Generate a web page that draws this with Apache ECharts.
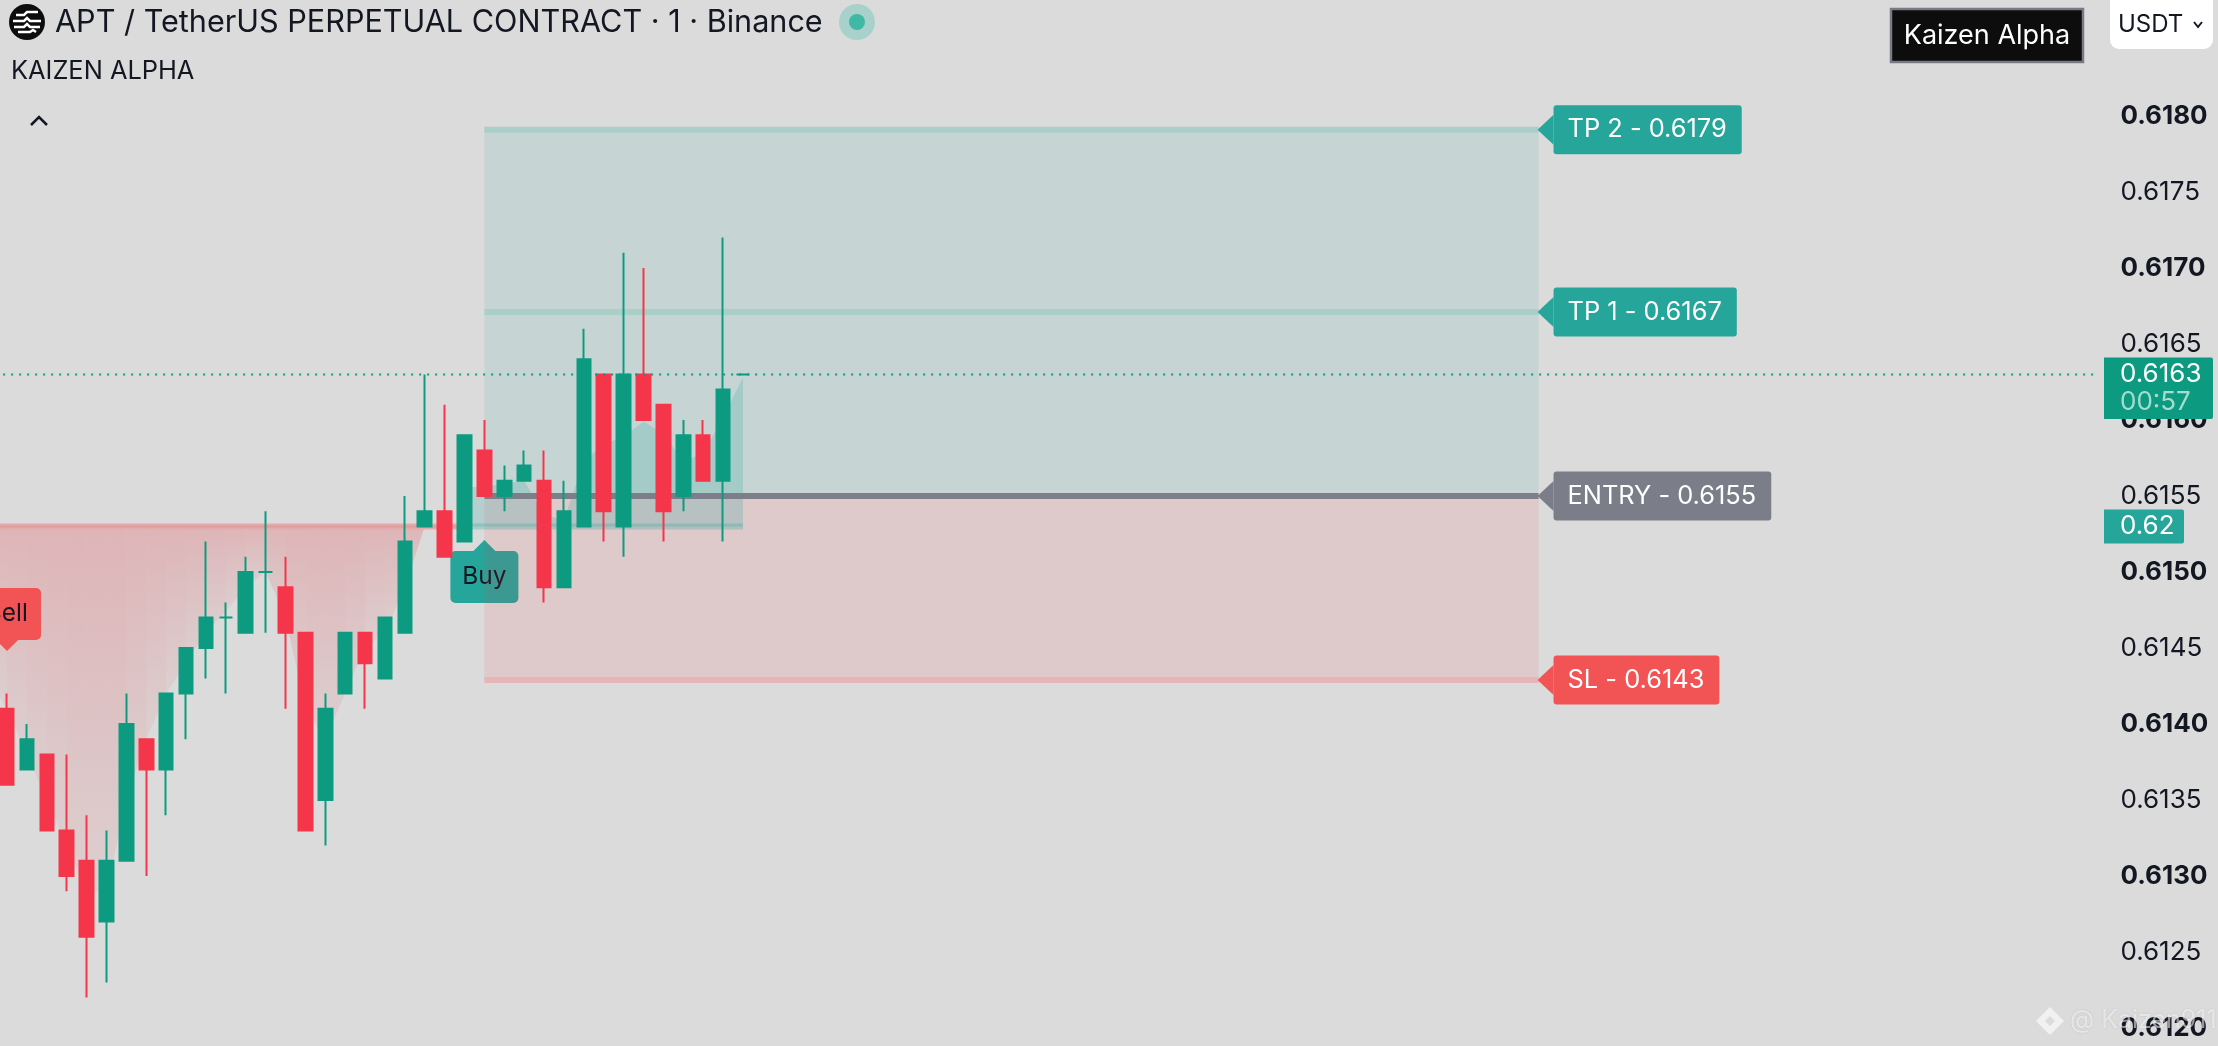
<!DOCTYPE html>
<html><head><meta charset="utf-8">
<style>html,body{margin:0;padding:0;background:#dbdbdb;overflow:hidden}#c{width:2218px;height:1046px}</style>
<script src="https://cdn.jsdelivr.net/npm/echarts@6/dist/echarts.min.js"></script>
</head><body><div id="c"></div>
<script>
const opens  = [.6141,.6137,.6138,.6133,.6131,.6127,.6131,.6139,.6137,.6142,.6145,.6147,.6146,.6150,.6149,.6146,.6135,.6142,.6146,.6143,.6146,.6153,.6154,.6152,.6158,.6155,.6156,.6156,.6149,.6153,.6163,.6153,.6163,.6161,.6155,.6159,.6156,.6163];
const closes = [.6136,.6139,.6133,.6130,.6126,.6131,.6140,.6137,.6142,.6145,.6147,.6147,.6150,.6150,.6146,.6133,.6141,.6146,.6144,.6147,.6152,.6154,.6151,.6159,.6155,.6156,.6157,.6149,.6154,.6164,.6154,.6163,.6160,.6154,.6159,.6156,.6162,.6163];
const highs  = [.6142,.6140,.6138,.6138,.6134,.6133,.6142,.6139,.6142,.6145,.6152,.6148,.6151,.6154,.6151,.6146,.6142,.6146,.6146,.6147,.6155,.6163,.6161,.6159,.6160,.6157,.6158,.6158,.6156,.6166,.6163,.6171,.6170,.6161,.6160,.6160,.6172,.6163];
const lows   = [.6136,.6137,.6133,.6129,.6122,.6123,.6131,.6130,.6134,.6139,.6143,.6142,.6146,.6146,.6141,.6133,.6132,.6142,.6141,.6143,.6146,.6153,.6151,.6152,.6155,.6154,.6156,.6148,.6149,.6153,.6152,.6151,.6160,.6152,.6154,.6156,.6152,.6163];
// lower edge of the red cloud, first value belongs to the off-screen bar
const redCloud = [.6143,.6141,.6138,.6135,.6132,.6129,.6129,.6135,.6139,.6142,.6144,.6146,.61474,.6149,.6150,.6147,.6141,.6139,.6142,.6145,.6146,.6149,.6153];
// upper edge of the teal cloud, bars 23 to 37
const tealCloud = [.61556,.61556,.61558,.6156,.61538,.61534,.61573,.61584,.61589,.61599,.61591,.61573,.61578,.61602,.61628];
const cloudLevel = 0.6153;
const lastPrice = 0.6163;
const levelNames = ['TP 2 - 0.6179','TP 1 - 0.6167','ENTRY - 0.6155','SL - 0.6143'];
const levelPrices = [0.61791,0.61671,0.6155,0.61429];
const signalNames = ['Sell','Buy'];
const signalPrices = [0.61448,0.61521];
const signalBars = [0,24];
const bars = 107, firstBar = 1, zoneFrom = 25, zoneTo = 78;

const categories = Array.from({length:bars},(_,i)=>String(i));
const candleData = opens.map((o,i)=>[o,closes[i],lows[i],highs[i]]);
candleData.unshift('-');
const redSegments = redCloud.slice(0,-1).map((v,i)=>[i,v,redCloud[i+1]]);
const tealData = [...Array(24).fill(null),...tealCloud];

const FONT='Inter, Roboto, sans-serif';
const TEAL='#26a69a',GREEN='#0c9b80',RED='#f5364a',SELL='#f25355',GREY='#7b7d88',INK='#131722';
const levelColors=[TEAL,TEAL,GREY,SELL];
const bandColors=['#aacfca','#a9cfc9','#7c7e8a','#e5b5b7'];
const measure=document.createElement('canvas').getContext('2d');
function textW(t,size){measure.font=size+'px Inter';return measure.measureText(t).width;}

const chart=echarts.init(document.getElementById('c'),null,{renderer:'canvas'});
chart.setOption({
 animation:false,
 backgroundColor:'#dbdbdb',
 grid:{left:-22.8,width:2128.2,top:-36,height:1140,containLabel:false,outerBoundsMode:'none'},
 xAxis:{type:'category',data:categories,boundaryGap:true,axisLine:{show:false},axisTick:{show:false},axisLabel:{show:false},splitLine:{show:false}},
 yAxis:{type:'value',position:'right',min:0.6115,max:0.6190,interval:0.0005,scale:true,
  axisLine:{show:false},axisTick:{show:false},splitLine:{show:false},
  axisLabel:{margin:15,align:'left',fontFamily:FONT,
   formatter:v=>{const s=v.toFixed(4);return Math.round(v*10000)%10===0?'{b|'+s+'}':'{n|'+s+'}';},
   rich:{b:{fontSize:26,fontWeight:700,color:INK,fontFamily:FONT},n:{fontSize:26,color:INK,fontFamily:FONT}}}},
 graphic:{elements:[
  {type:'circle',shape:{cx:27,cy:22,r:18},style:{fill:'#0d0d0d'},z:30},
  {type:'polyline',shape:{points:[[16,15],[24,15],[27,12],[38,12]]},style:{stroke:'#fff',lineWidth:2.5,fill:null},z:31},
  {type:'polyline',shape:{points:[[13,21],[24,21],[27,18],[30,21],[41,21]]},style:{stroke:'#fff',lineWidth:2.5,fill:null},z:31},
  {type:'polyline',shape:{points:[[14,27],[24,27],[27,24],[30,27],[40,27]]},style:{stroke:'#fff',lineWidth:2.5,fill:null},z:31},
  {type:'polyline',shape:{points:[[18,32],[30,32],[33,30],[36,32]]},style:{stroke:'#fff',lineWidth:2.5,fill:null},z:31},
  {type:'text',style:{x:55,y:23,text:'APT / TetherUS PERPETUAL CONTRACT · 1 · Binance',font:'30.6px '+FONT,fill:INK,textVerticalAlign:'middle'},z:30},
  {type:'text',style:{x:11,y:71,text:'KAIZEN ALPHA',font:'25.4px '+FONT,fill:INK,textVerticalAlign:'middle'},z:30},
  {type:'circle',shape:{cx:857,cy:22,r:18},style:{fill:'#a9d1cb'},z:30},
  {type:'circle',shape:{cx:857,cy:22,r:8},style:{fill:'#3fb8a5'},z:31},
  {type:'polyline',shape:{points:[[31,125],[39,117],[47,125]]},style:{stroke:INK,lineWidth:2.5,fill:null},z:30},
  {type:'rect',shape:{x:1891,y:9,width:192,height:53},style:{fill:'#0d0d0d',stroke:'#787b86',lineWidth:2.5},z:30},
  {type:'text',style:{x:1987,y:36,text:'Kaizen Alpha',font:'27px '+FONT,fill:'#fff',textAlign:'center',textVerticalAlign:'middle'},z:31},
  {type:'rect',shape:{x:2110,y:-8,width:103,height:57,r:9},style:{fill:'#fff'},z:30},
  {type:'text',style:{x:2118,y:25,text:'USDT',font:'24px '+FONT,fill:INK,textVerticalAlign:'middle'},z:31},
  {type:'polyline',shape:{points:[[2194,22],[2198,27],[2202,22]]},style:{stroke:INK,lineWidth:2,fill:null},z:31},
  {type:'polygon',shape:{points:[[2050,1007],[2064,1021],[2050,1035],[2036,1021]]},style:{fill:'rgba(255,255,255,0.6)'},z:32},
  {type:'polygon',shape:{points:[[2050,1016],[2055,1021],[2050,1026],[2045,1021]]},style:{fill:'#dbdbdb'},z:33},
  {type:'text',style:{x:2070,y:1020,text:'@ Kaizen911',font:'25px '+FONT,fill:'rgba(255,255,255,0.55)',textVerticalAlign:'middle',textShadowColor:'rgba(0,0,0,0.22)',textShadowBlur:2},z:32}
 ]},
 series:[
  {name:'signals-under',type:'custom',z:3,coordinateSystem:'cartesian2d',silent:true,clip:false,
   data:[[signalBars[1]+firstBar,signalPrices[1],signalNames[1]]],
   renderItem:(p,api)=>signalShape(api,TEAL,false)},
  {name:'zones',type:'custom',z:4,coordinateSystem:'cartesian2d',silent:true,
   data:[[levelPrices[0],levelPrices[2]],[levelPrices[2],levelPrices[3]]],
   renderItem:(p,api)=>{
     const a=api.coord([zoneFrom,api.value(0)]),b=api.coord([zoneTo,api.value(1)]);
     return {type:'rect',shape:{x:a[0],y:a[1],width:b[0]-a[0],height:b[1]-a[1]},
       style:{fill:p.dataIndex===0?'rgba(38,166,154,0.115)':'rgba(242,54,69,0.11)'}};
   }},
  {name:'red cloud',type:'custom',z:5,coordinateSystem:'cartesian2d',silent:true,clip:false,
   encode:{x:0,y:[1,2]},data:redSegments,
   renderItem:(p,api)=>{
     const i=api.value(0),a=api.coord([i,api.value(1)]),b=api.coord([i+1,api.value(2)]),
           ta=api.coord([i,cloudLevel]),tb=api.coord([i+1,cloudLevel]);
     return {type:'polygon',shape:{points:[ta,tb,b,a]},
       style:{fill:new echarts.graphic.LinearGradient(0,0,0,1,[{offset:0,color:'rgba(232,70,80,0.26)'},{offset:1,color:'rgba(232,70,80,0.08)'}])}};
   }},
  {name:'teal cloud',type:'line',z:5,data:tealData,showSymbol:false,silent:true,lineStyle:{width:0},
   areaStyle:{origin:cloudLevel,opacity:1,color:'rgba(38,166,154,0.21)'}},
  {name:'red band',type:'line',z:6,data:[[0,cloudLevel],[24,cloudLevel]],showSymbol:false,silent:true,lineStyle:{width:6,color:'#e3abac'}},
  {name:'red band core',type:'line',z:6,data:[[0,cloudLevel],[24,cloudLevel]],showSymbol:false,silent:true,lineStyle:{width:2,color:'#df9d9e'}},
  {name:'teal band',type:'line',z:6,data:[[24,cloudLevel],[38,cloudLevel]],showSymbol:false,silent:true,lineStyle:{width:6,color:'rgba(38,166,154,0.28)'}},
  {name:'levels',type:'custom',z:7,coordinateSystem:'cartesian2d',silent:true,
   data:levelPrices.map(v=>[v]),
   renderItem:(p,api)=>{
     const a=api.coord([zoneFrom,api.value(0)]),b=api.coord([zoneTo,api.value(0)]);
     return {type:'line',shape:{x1:a[0],y1:a[1],x2:b[0],y2:b[1]},style:{stroke:bandColors[p.dataIndex],lineWidth:6}};
   }},
  {name:'APT',type:'candlestick',z:8,data:candleData,barWidth:14,silent:true,
   itemStyle:{color:GREEN,color0:RED,borderColor:GREEN,borderColor0:RED,borderWidth:2}},
  {name:'last',type:'line',z:9,data:[[0,lastPrice],[106,lastPrice]],showSymbol:false,silent:true,
   lineStyle:{width:2,color:GREEN,type:[2,6]}},
  {name:'signals-over',type:'custom',z:10,coordinateSystem:'cartesian2d',silent:true,clip:false,
   data:[[signalBars[0]+firstBar,signalPrices[0],signalNames[0]]],
   renderItem:(p,api)=>signalShape(api,SELL,true)},
  {name:'tags',type:'custom',z:11,coordinateSystem:'cartesian2d',silent:true,clip:false,
   data:levelPrices.map(v=>[v]),
   renderItem:(p,api)=>{
     const c=api.coord([zoneTo,api.value(0)]),x=c[0]-1,y=c[1],t=levelNames[p.dataIndex],col=levelColors[p.dataIndex];
     const w=textW(t,25.4)+29;
     return {type:'group',children:[
       {type:'polygon',shape:{points:[[x,y],[x+16,y-15],[x+16,y+15]]},style:{fill:col}},
       {type:'rect',shape:{x:x+16,y:y-24.5,width:w,height:49,r:3},style:{fill:col}},
       {type:'text',style:{x:x+30,y:y,text:t,font:'25.4px '+FONT,fill:'#fff',textVerticalAlign:'middle'}}]};
   }},
  {name:'price boxes',type:'custom',z:12,coordinateSystem:'cartesian2d',silent:true,clip:false,
   data:[[lastPrice],[cloudLevel]],
   renderItem:(p,api)=>{
     const y=api.coord([0,api.value(0)])[1],x=2104;
     if(p.dataIndex===0) return {type:'group',children:[
       {type:'rect',shape:{x,y:y-17,width:109,height:61.5,r:[0,2,2,0]},style:{fill:GREEN}},
       {type:'text',style:{x:x+16,y:y,text:'0.6163',font:'26px '+FONT,fill:'#fff',textVerticalAlign:'middle'}},
       {type:'text',style:{x:x+16,y:y+28,text:'00:57',font:'26px '+FONT,fill:'#a6dccf',textVerticalAlign:'middle'}}]};
     return {type:'group',children:[
       {type:'rect',shape:{x,y:y-17,width:80,height:34,r:[0,2,2,0]},style:{fill:TEAL}},
       {type:'text',style:{x:x+16,y:y,text:'0.62',font:'26px '+FONT,fill:'#fff',textVerticalAlign:'middle'}}]};
   }}
 ]
});
function signalShape(api,col,down){
  const c=api.coord([api.value(0),api.value(1)]),x=c[0],y=c[1],d=down?-1:1;
  const top=d>0?y+11:y-11-52;
  return {type:'group',children:[
    {type:'polygon',shape:{points:[[x,y],[x+11,y+11*d],[x-11,y+11*d]]},style:{fill:col}},
    {type:'rect',shape:{x:x-34,y:top,width:68,height:52,r:5},style:{fill:col}},
    {type:'text',style:{x:x,y:top+26,text:api.value(2),font:'24.5px '+FONT,fill:INK,textAlign:'center',textVerticalAlign:'middle'}}]};
}
</script></body></html>
